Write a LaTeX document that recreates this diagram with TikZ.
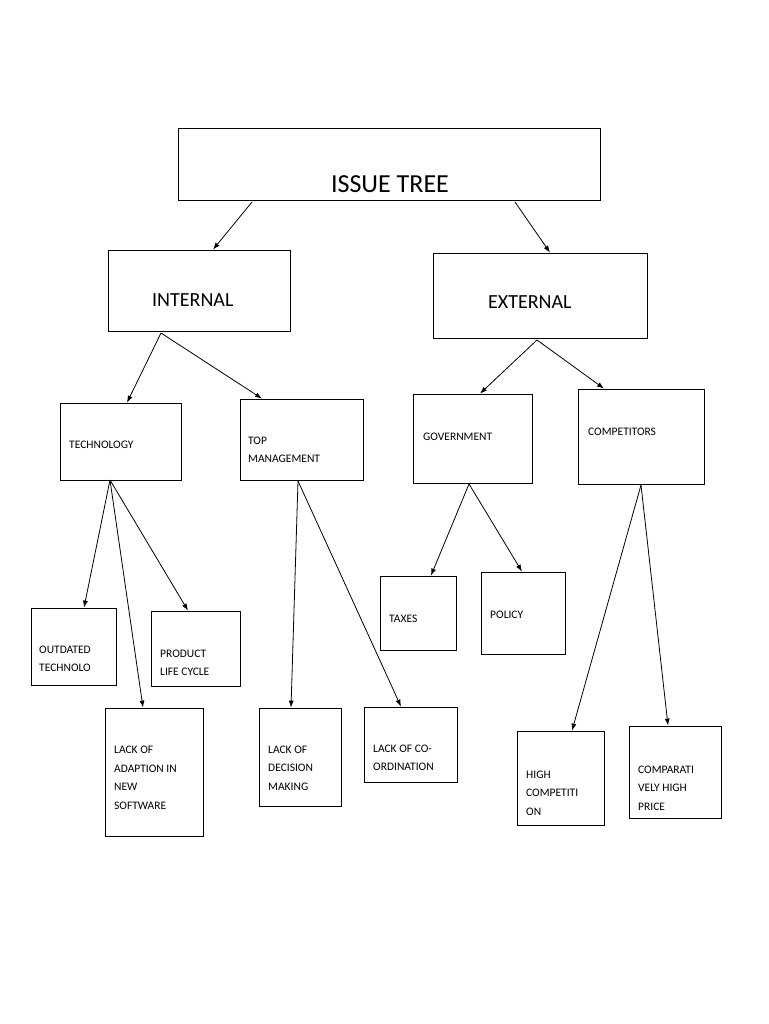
\documentclass[tikz,border=0pt]{standalone}
\usepackage{fontspec}
\setmainfont{Carlito}
\usetikzlibrary{arrows.meta}
\begin{document}
\begin{tikzpicture}[x=1pt,y=-1pt,
  box/.style={draw,line width=0.8pt,inner sep=0pt},
  lbl/.style={anchor=west,align=left,inner sep=0pt,font=\fontsize{11.5}{18.5}\selectfont},
  arr/.style={-{Latex[length=7pt,width=5pt]},line width=0.8pt}]
\useasboundingbox (0,0) rectangle (768,1024);
\newcommand\bx[5]{\node[box,minimum width=#4-#2,minimum height=#5-#3] (#1) at ({(#2+#4)/2},{(#3+#5)/2}) {};}
\bx{root}{178}{128}{600}{200}
\bx{int}{108}{250}{290}{331}
\bx{ext}{433}{253}{647}{338}
\bx{tech}{60}{403}{181}{480}
\bx{top}{240}{399}{363}{480}
\bx{gov}{413}{394}{532}{483}
\bx{comp}{578}{389}{704}{484}
\bx{out}{31}{608}{116}{685}
\bx{prod}{151}{611}{240}{686}
\bx{adapt}{105}{708}{203}{836}
\bx{dec}{259}{708}{341}{806}
\bx{coord}{364}{707}{457}{782}
\bx{tax}{380}{576}{456}{650}
\bx{pol}{481}{572}{565}{654}
\bx{high}{517}{731}{604}{825}
\bx{cmpr}{629}{726}{721}{818}
\node[font=\fontsize{26}{30}\selectfont] (t0) at (390,184) {ISSUE TREE};
\node[lbl,font=\fontsize{20}{24}\selectfont] (t1) at (152,300) {INTERNAL};
\node[lbl,font=\fontsize{20}{24}\selectfont] (t2) at (488,302) {EXTERNAL};
\node[lbl] (t3) at (69,445) {TECHNOLOGY};
\node[lbl] (t4) at (248,450) {TOP\\MANAGEMENT};
\node[lbl] (t5) at (423,437) {GOVERNMENT};
\node[lbl] (t6) at (588,432) {COMPETITORS};
\node[lbl] (t7) at (39,659) {OUTDATED\\TECHNOLO};
\node[lbl] (t8) at (160,663) {PRODUCT\\LIFE CYCLE};
\node[lbl] (t9) at (114,778) {LACK OF\\ADAPTION IN\\NEW\\SOFTWARE};
\node[lbl] (t10) at (268,768) {LACK OF\\DECISION\\MAKING};
\node[lbl] (t11) at (373,758) {LACK OF CO-\\ORDINATION};
\node[lbl] (t12) at (389,619) {TAXES};
\node[lbl] (t13) at (490,615) {POLICY};
\node[lbl] (t14) at (526,793) {HIGH\\COMPETITI\\ON};
\node[lbl] (t15) at (638,788) {COMPARATI\\VELY HIGH\\PRICE};
\coordinate (r1) at (252,202); \coordinate (r2) at (515,202);
\coordinate (i0) at (161,333); \coordinate (e0) at (537,340);
\coordinate (te0) at (110,480); \coordinate (tm0) at (298,481);
\coordinate (g0) at (469,484); \coordinate (c0) at (641,485);
\draw[arr] (r1) -- (int.north -| 213,0);
\draw[arr] (r2) -- (ext.north -| 550,0);
\draw[arr] (i0) -- (tech.north -| 127,0);
\draw[arr] (i0) -- (top.north -| 262,0);
\draw[arr] (e0) -- (gov.north -| 480,0);
\draw[arr] (e0) -- (comp.north -| 604,0);
\draw[arr] (te0) -- (out.north -| 84,0);
\draw[arr] (te0) -- (adapt.north -| 143,0);
\draw[arr] (te0) -- (prod.north -| 188,0);
\draw[arr] (tm0) -- (dec.north -| 291,0);
\draw[arr] (tm0) -- (coord.north -| 401,0);
\draw[arr] (g0) -- (tax.north -| 431,0);
\draw[arr] (g0) -- (pol.north -| 522,0);
\draw[arr] (c0) -- (high.north -| 572,0);
\draw[arr] (c0) -- (cmpr.north -| 668,0);
\end{tikzpicture}
\end{document}
